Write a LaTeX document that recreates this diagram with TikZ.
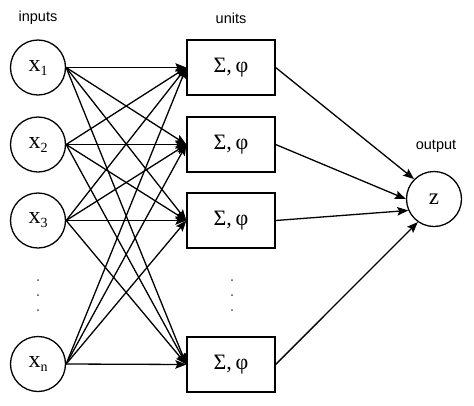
\documentclass[tikz,border=0pt]{standalone}
\usepackage{fontspec}
\setmainfont{Liberation Serif}
\newfontfamily\labelfont{Liberation Sans}
\usetikzlibrary{arrows.meta}
\tikzset{
  innode/.style={circle, draw, line width=1.3pt, minimum size=55pt, inner sep=0pt, font=\fontsize{24}{24}\selectfont},
  unitbox/.style={rectangle, draw, line width=1.3pt, minimum width=88pt, minimum height=55pt, inner sep=0pt, font=\fontsize{22}{22}\selectfont},
  lbl/.style={inner sep=0pt, font=\labelfont\fontsize{14.5}{14.5}\selectfont},
  conn/.style={line width=1.3pt, -{Stealth[length=11pt,width=8.5pt,inset=2pt]}},
  vdot/.style={circle, fill=black!70, inner sep=0pt, minimum size=2pt},
}
\newcommand{\sub}[1]{\raisebox{-4pt}{\fontsize{14}{14}\selectfont #1}}
\begin{document}
\begin{tikzpicture}[x=1pt,y=-1pt]
\useasboundingbox (0,0) rectangle (474,405);
% labels
\node[lbl] (linputs) at (38,18) {inputs};
\node[lbl] (lunits) at (231,18) {units};
\node[lbl] (loutput) at (436,146) {output};
% inputs
\node[innode] (x1) at (38,67.5) {x\sub{1}};
\node[innode] (x2) at (38,144.5) {x\sub{2}};
\node[innode] (x3) at (38,220.5) {x\sub{3}};
\node[innode] (xn) at (38,364) {x\sub{n}};
% units
\node[unitbox] (u1) at (231,67.5) {Σ,\,φ};
\node[unitbox] (u2) at (231,144.5) {Σ,\,φ};
\node[unitbox] (u3) at (231,220.5) {Σ,\,φ};
\node[unitbox] (un) at (231,364.5) {Σ,\,φ};
% output
\node[innode, font=\fontsize{23}{23}\selectfont] (z) at (434,199) {z};
% dots
\foreach \y [count=\i] in {280,295,310} {
  \node[vdot] (da\i) at (38,\y) {};
  \node[vdot] (db\i) at (232,\y) {};
}
% connections
\foreach \s in {x1,x2,x3,xn} {
  \foreach \t in {u1,u2,u3,un} {
    \draw[conn] (\s.east) -- (\t.west);
  }
}
\draw[conn] (u1.east) -- (z.135);
\draw[conn] (u2.east) -- (z.180);
\draw[conn] (u3.east) -- (z.204);
\draw[conn] (un.east) -- (z.235);
\end{tikzpicture}
\end{document}
